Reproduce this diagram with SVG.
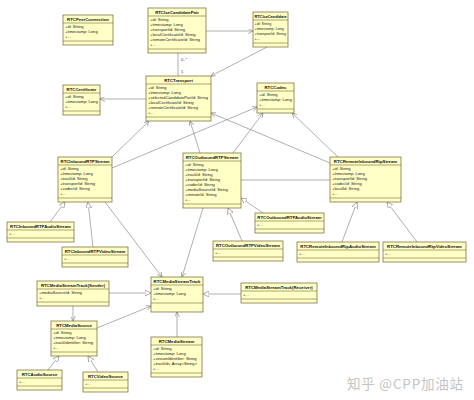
<svg xmlns="http://www.w3.org/2000/svg" width="474" height="400" viewBox="0 0 474 400">
<style>
.b{fill:#FFFFC6;stroke:#7a6a38;stroke-width:0.75}
.s{stroke:#7a6a38;stroke-width:0.6}
.t{font-family:"Liberation Sans",Arial,sans-serif;font-size:4.3px;font-weight:bold;fill:#111;text-anchor:middle}
.a{font-family:"Liberation Sans",Arial,sans-serif;font-size:4.1px;fill:#222}
.c line,.c path{stroke:#7a7a7a;stroke-width:0.6;fill:none}
.as{marker-end:url(#open)}
.ge{marker-end:url(#tri)}
.m{font-family:"Liberation Sans",Arial,sans-serif;font-size:4px;fill:#333}
</style>
<defs>
<marker id="open" viewBox="0 0 10 10" refX="10" refY="5" markerWidth="5" markerHeight="5" orient="auto" markerUnits="userSpaceOnUse"><path d="M0,0 L10,5 L0,10" fill="none" stroke="#7a7a7a" stroke-width="1.2"/></marker>
<marker id="tri" viewBox="0 0 10 10" refX="10" refY="5" markerWidth="6" markerHeight="6" orient="auto" markerUnits="userSpaceOnUse"><path d="M0,0 L10,5 L0,10 Z" fill="#fff" stroke="#7a7a7a" stroke-width="1"/></marker>
</defs>
<rect width="474" height="400" fill="#fff"/>

<g class="c" id="connectors">
<line class="as" x1="206" y1="31" x2="253" y2="31"/>
<line x1="178" y1="53" x2="178" y2="76"/>
<line class="as" x1="267" y1="47" x2="211" y2="76"/>
<line class="as" x1="146" y1="99" x2="100" y2="99"/>
<line class="as" x1="112" y1="157" x2="149" y2="121"/>
<line class="as" x1="112" y1="168" x2="257" y2="107"/>
<line class="as" x1="200" y1="153" x2="190" y2="121"/>
<line class="as" x1="233" y1="153" x2="263" y2="113"/>
<line class="as" x1="330" y1="163" x2="211" y2="113"/>
<line class="as" x1="338" y1="157" x2="292" y2="113"/>
<line x1="241" y1="180" x2="330" y2="180"/>
<line class="as" x1="105" y1="202" x2="162" y2="277"/>
<line class="as" x1="203" y1="208" x2="182" y2="277"/>
<line class="as" x1="73" y1="306" x2="73" y2="321"/>
<line class="as" x1="97" y1="328" x2="151" y2="306"/>
<line class="as" x1="177" y1="337" x2="177" y2="312"/>
<line class="ge" x1="50" y1="222" x2="65" y2="202"/>
<line class="ge" x1="93" y1="247" x2="88" y2="202"/>
<line class="ge" x1="263" y1="213" x2="241" y2="198"/>
<line class="ge" x1="242" y1="241" x2="228" y2="208"/>
<line class="ge" x1="342" y1="242" x2="357" y2="202"/>
<line class="ge" x1="417" y1="242" x2="387" y2="202"/>
<line class="ge" x1="109" y1="293" x2="151" y2="293"/>
<line class="ge" x1="241" y1="294" x2="203" y2="294"/>
<line class="ge" x1="48" y1="370" x2="59" y2="356"/>
<line class="ge" x1="98" y1="372" x2="88" y2="356"/>
<text class="m" x="181" y="61">0..*</text>
<text class="m" x="181" y="73">1</text>
</g>

<g id="RTCPeerConnection">
<rect class="b" x="63" y="15" width="50" height="30"/>
<line class="s" x1="63" y1="23" x2="113" y2="23"/><line class="s" x1="63" y1="41" x2="113" y2="41"/>
<text class="t" x="88" y="21">RTCPeerConnection</text>
<text class="a" x="65" y="27.8">+id: String</text><text class="a" x="65" y="32.8">+timestamp: Long</text><text class="a" x="65" y="37.8">+...</text>
</g>

<g id="RTCIceCandidatePair">
<rect class="b" x="148" y="8" width="58" height="45"/>
<line class="s" x1="148" y1="16" x2="206" y2="16"/><line class="s" x1="148" y1="49" x2="206" y2="49"/>
<text class="t" x="177" y="14">RTCIceCandidatePair</text>
<text class="a" x="150" y="20.8">+id: String</text><text class="a" x="150" y="25.8">+timestamp: Long</text><text class="a" x="150" y="30.8">+transportId: String</text><text class="a" x="150" y="35.8">+localCertificateId: String</text><text class="a" x="150" y="40.8">+remoteCertificateId: String</text><text class="a" x="150" y="45.8">+...</text>
</g>

<g id="RTCIceCandidate">
<rect class="b" x="253" y="12" width="35" height="35"/>
<line class="s" x1="253" y1="20" x2="288" y2="20"/><line class="s" x1="253" y1="43" x2="288" y2="43"/>
<text class="t" x="270.5" y="18" style="font-size:3.9px">RTCIceCandidate</text>
<text class="a" x="254.5" y="24.8" style="font-size:3.7px">+id: String</text><text class="a" x="254.5" y="29.8" style="font-size:3.7px">+timestamp: Long</text><text class="a" x="254.5" y="34.8" style="font-size:3.7px">+transportId: String</text><text class="a" x="254.5" y="39.8" style="font-size:3.7px">+...</text>
</g>

<g id="RTCCertificate">
<rect class="b" x="63" y="85" width="37" height="30"/>
<line class="s" x1="63" y1="93" x2="100" y2="93"/><line class="s" x1="63" y1="111" x2="100" y2="111"/>
<text class="t" x="81.5" y="91">RTCCertificate</text>
<text class="a" x="65" y="97.8">+id: String</text><text class="a" x="65" y="102.8">+timestamp: Long</text><text class="a" x="65" y="107.8">+...</text>
</g>

<g id="RTCTransport">
<rect class="b" x="146" y="76" width="65" height="45"/>
<line class="s" x1="146" y1="84" x2="211" y2="84"/><line class="s" x1="146" y1="117" x2="211" y2="117"/>
<text class="t" x="178.5" y="82">RTCTransport</text>
<text class="a" x="148" y="88.8">+id: String</text><text class="a" x="148" y="93.8">+timestamp: Long</text><text class="a" x="148" y="98.8">+selectedCandidatePairId: String</text><text class="a" x="148" y="103.8">+localCertificateId: String</text><text class="a" x="148" y="108.8">+remoteCertificateId: String</text><text class="a" x="148" y="113.8">+...</text>
</g>

<g id="RTCCodec">
<rect class="b" x="257" y="83" width="37" height="30"/>
<line class="s" x1="257" y1="91" x2="294" y2="91"/><line class="s" x1="257" y1="109" x2="294" y2="109"/>
<text class="t" x="275.5" y="89">RTCCodec</text>
<text class="a" x="259" y="95.8">+id: String</text><text class="a" x="259" y="100.8">+timestamp: Long</text><text class="a" x="259" y="105.8">+...</text>
</g>

<g id="RTCInboundRTPStream">
<rect class="b" x="58" y="157" width="54" height="45"/>
<line class="s" x1="58" y1="165" x2="112" y2="165"/><line class="s" x1="58" y1="198" x2="112" y2="198"/>
<text class="t" x="85" y="163">RTCInboundRTPStream</text>
<text class="a" x="60" y="169.8">+id: String</text><text class="a" x="60" y="174.8">+timestamp: Long</text><text class="a" x="60" y="179.8">+trackId: String</text><text class="a" x="60" y="184.8">+transportId: String</text><text class="a" x="60" y="189.8">+codecId: String</text><text class="a" x="60" y="194.8">+...</text>
</g>

<g id="RTCOutboundRTPStream">
<rect class="b" x="183" y="153" width="58" height="55"/>
<line class="s" x1="183" y1="161" x2="241" y2="161"/><line class="s" x1="183" y1="204" x2="241" y2="204"/>
<text class="t" x="212" y="159">RTCOutboundRTPStream</text>
<text class="a" x="185" y="165.8">+id: String</text><text class="a" x="185" y="170.8">+timestamp: Long</text><text class="a" x="185" y="175.8">+trackId: String</text><text class="a" x="185" y="180.8">+transportId: String</text><text class="a" x="185" y="185.8">+codecId: String</text><text class="a" x="185" y="190.8">+mediaSourceId: String</text><text class="a" x="185" y="195.8">+remoteId: String</text><text class="a" x="185" y="200.8">+...</text>
</g>

<g id="RTCRemoteInboundRtpStream">
<rect class="b" x="330" y="157" width="71" height="45"/>
<line class="s" x1="330" y1="165" x2="401" y2="165"/><line class="s" x1="330" y1="198" x2="401" y2="198"/>
<text class="t" x="365.5" y="163">RTCRemoteInboundRtpStream</text>
<text class="a" x="332" y="169.8">+id: String</text><text class="a" x="332" y="174.8">+timestamp: Long</text><text class="a" x="332" y="179.8">+transportId: String</text><text class="a" x="332" y="184.8">+codecId: String</text><text class="a" x="332" y="189.8">+localId: String</text><text class="a" x="332" y="194.8">+...</text>
</g>

<g id="RTCInboundRTPAudioStream">
<rect class="b" x="7" y="222" width="67" height="20"/>
<line class="s" x1="7" y1="230" x2="74" y2="230"/><line class="s" x1="7" y1="238" x2="74" y2="238"/>
<text class="t" x="40.5" y="228">RTCInboundRTPAudioStream</text>
<text class="a" x="9" y="234.8">+...</text>
</g>

<g id="RTCInboundRTPVideoStream">
<rect class="b" x="62" y="247" width="66" height="20"/>
<line class="s" x1="62" y1="255" x2="128" y2="255"/><line class="s" x1="62" y1="263" x2="128" y2="263"/>
<text class="t" x="95" y="253">RTCInboundRTPVideoStream</text>
<text class="a" x="64" y="259.8">+...</text>
</g>

<g id="RTCOutboundRTPAudioStream">
<rect class="b" x="255" y="213" width="69" height="20"/>
<line class="s" x1="255" y1="221" x2="324" y2="221"/><line class="s" x1="255" y1="229" x2="324" y2="229"/>
<text class="t" x="289.5" y="219">RTCOutboundRTPAudioStream</text>
<text class="a" x="257" y="225.8">+...</text>
</g>

<g id="RTCOutboundRTPVideoStream">
<rect class="b" x="213" y="241" width="70" height="20"/>
<line class="s" x1="213" y1="249" x2="283" y2="249"/><line class="s" x1="213" y1="257" x2="283" y2="257"/>
<text class="t" x="248" y="247">RTCOutboundRTPVideoStream</text>
<text class="a" x="215" y="253.8">+...</text>
</g>

<g id="RTCRemoteInboundRtpAudioStream">
<rect class="b" x="297" y="242" width="82" height="20"/>
<line class="s" x1="297" y1="250" x2="379" y2="250"/><line class="s" x1="297" y1="258" x2="379" y2="258"/>
<text class="t" x="338" y="248">RTCRemoteInboundRtpAudioStream</text>
<text class="a" x="299" y="254.8">+...</text>
</g>

<g id="RTCRemoteInboundRtpVideoStream">
<rect class="b" x="383" y="242" width="83" height="20"/>
<line class="s" x1="383" y1="250" x2="466" y2="250"/><line class="s" x1="383" y1="258" x2="466" y2="258"/>
<text class="t" x="424.5" y="248">RTCRemoteInboundRtpVideoStream</text>
<text class="a" x="385" y="254.8">+...</text>
</g>

<g id="RTCMediaStreamTrack">
<rect class="b" x="151" y="277" width="52" height="35"/>
<line class="s" x1="151" y1="285" x2="203" y2="285"/><line class="s" x1="151" y1="303" x2="203" y2="303"/>
<text class="t" x="177" y="283">RTCMediaStreamTrack</text>
<text class="a" x="153" y="289.8">+id: String</text><text class="a" x="153" y="294.8">+timestamp: Long</text><text class="a" x="153" y="299.8">+...</text>
</g>

<g id="RTCMediaStreamTrackSender">
<rect class="b" x="37" y="281" width="72" height="25"/>
<line class="s" x1="37" y1="289" x2="109" y2="289"/><line class="s" x1="37" y1="302" x2="109" y2="302"/>
<text class="t" x="73" y="287">RTCMediaStreamTrack(Sender)</text>
<text class="a" x="39" y="293.8">+mediaSourceId: String</text><text class="a" x="39" y="298.8">+...</text>
</g>

<g id="RTCMediaStreamTrackReceiver">
<rect class="b" x="241" y="283" width="76" height="20"/>
<line class="s" x1="241" y1="291" x2="317" y2="291"/><line class="s" x1="241" y1="299" x2="317" y2="299"/>
<text class="t" x="279" y="289">RTCMediaStreamTrack(Receiver)</text>
<text class="a" x="243" y="295.8">+...</text>
</g>

<g id="RTCMediaSource">
<rect class="b" x="51" y="321" width="46" height="35"/>
<line class="s" x1="51" y1="329" x2="97" y2="329"/><line class="s" x1="51" y1="352" x2="97" y2="352"/>
<text class="t" x="74" y="327">RTCMediaSource</text>
<text class="a" x="53" y="333.8">+id: String</text><text class="a" x="53" y="338.8">+timestamp: Long</text><text class="a" x="53" y="343.8">+trackIdentifier: String</text><text class="a" x="53" y="348.8">+...</text>
</g>

<g id="RTCMediaStream">
<rect class="b" x="151" y="337" width="51" height="40"/>
<line class="s" x1="151" y1="345" x2="202" y2="345"/><line class="s" x1="151" y1="373" x2="202" y2="373"/>
<text class="t" x="176.5" y="343">RTCMediaStream</text>
<text class="a" x="153" y="349.8">+id: String</text><text class="a" x="153" y="354.8">+timestamp: Long</text><text class="a" x="153" y="359.8">+streamIdentifier: String</text><text class="a" x="153" y="364.8">+trackIds: Array&lt;String&gt;</text><text class="a" x="153" y="369.8">+...</text>
</g>

<g id="RTCAudioSource">
<rect class="b" x="17" y="370" width="45" height="20"/>
<line class="s" x1="17" y1="378" x2="62" y2="378"/><line class="s" x1="17" y1="386" x2="62" y2="386"/>
<text class="t" x="39.5" y="376">RTCAudioSource</text>
<text class="a" x="19" y="382.8">+...</text>
</g>

<g id="RTCVideoSource">
<rect class="b" x="83" y="372" width="45" height="20"/>
<line class="s" x1="83" y1="380" x2="128" y2="380"/><line class="s" x1="83" y1="388" x2="128" y2="388"/>
<text class="t" x="105.5" y="378">RTCVideoSource</text>
<text class="a" x="85" y="384.8">+...</text>
</g>

<text x="347" y="389" textLength="116" lengthAdjust="spacing" style="font-family:'Noto Sans CJK SC','Noto Sans',sans-serif;font-size:13.5px;fill:#c4c4c4">知乎 @CPP加油站</text>
</svg>
